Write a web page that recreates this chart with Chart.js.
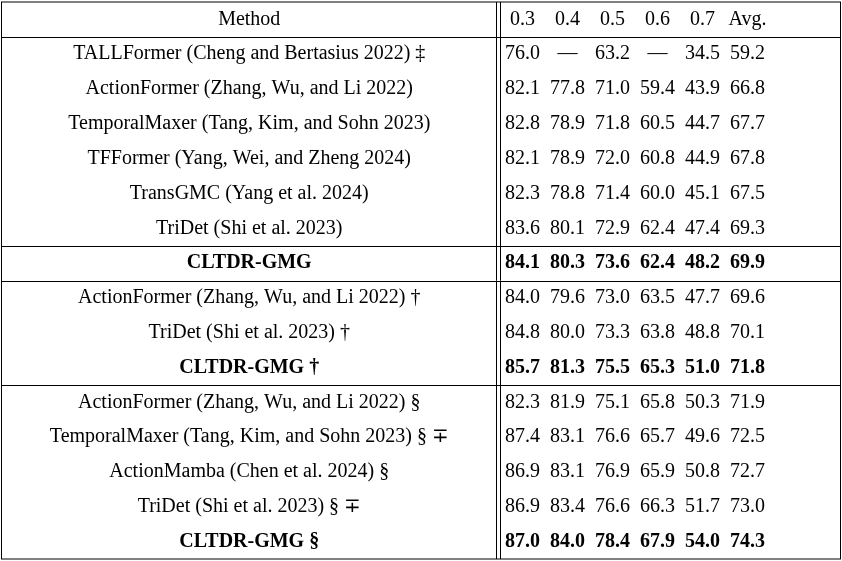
<!DOCTYPE html>
<html><head><meta charset="utf-8">
<script src="https://cdn.jsdelivr.net/npm/chart.js@4/dist/chart.umd.min.js"></script>
<style>html,body{margin:0;background:#fff}#wrap{width:842px;height:561px}</style>
</head><body><div id="wrap"><canvas id="c"></canvas></div>
<script>
'use strict';

const columns = ['0.3', '0.4', '0.5', '0.6', '0.7', 'Avg.'];
const methods = [
  'TALLFormer (Cheng and Bertasius 2022) ‡',
  'ActionFormer (Zhang, Wu, and Li 2022)',
  'TemporalMaxer (Tang, Kim, and Sohn 2023)',
  'TFFormer (Yang, Wei, and Zheng 2024)',
  'TransGMC (Yang et al. 2024)',
  'TriDet (Shi et al. 2023)',
  'CLTDR-GMG',
  'ActionFormer (Zhang, Wu, and Li 2022) †',
  'TriDet (Shi et al. 2023) †',
  'CLTDR-GMG †',
  'ActionFormer (Zhang, Wu, and Li 2022) §',
  'TemporalMaxer (Tang, Kim, and Sohn 2023) § ∓',
  'ActionMamba (Chen et al. 2024) §',
  'TriDet (Shi et al. 2023) § ∓',
  'CLTDR-GMG §',
];
const values = [
  ['76.0', '—', '63.2', '—', '34.5', '59.2'],
  ['82.1', '77.8', '71.0', '59.4', '43.9', '66.8'],
  ['82.8', '78.9', '71.8', '60.5', '44.7', '67.7'],
  ['82.1', '78.9', '72.0', '60.8', '44.9', '67.8'],
  ['82.3', '78.8', '71.4', '60.0', '45.1', '67.5'],
  ['83.6', '80.1', '72.9', '62.4', '47.4', '69.3'],
  ['84.1', '80.3', '73.6', '62.4', '48.2', '69.9'],
  ['84.0', '79.6', '73.0', '63.5', '47.7', '69.6'],
  ['84.8', '80.0', '73.3', '63.8', '48.8', '70.1'],
  ['85.7', '81.3', '75.5', '65.3', '51.0', '71.8'],
  ['82.3', '81.9', '75.1', '65.8', '50.3', '71.9'],
  ['87.4', '83.1', '76.6', '65.7', '49.6', '72.5'],
  ['86.9', '83.1', '76.9', '65.9', '50.8', '72.7'],
  ['86.9', '83.4', '76.6', '66.3', '51.7', '73.0'],
  ['87.0', '84.0', '78.4', '67.9', '54.0', '74.3'],
];
const boldRows = [6, 9, 14];
const groupBreaks = [5, 6, 9]; // line drawn after these data rows

const rowLabels = ['Method', ...methods];
const FONT = '"Liberation Serif", "DejaVu Serif", serif';

const cells = [];
values.forEach((row, r) => row.forEach((v, c) => cells.push({ x: columns[c], y: methods[r], v, bold: boldRows.includes(r) })));

const tablePlugin = {
  id: 'table',
  afterDraw(chart) {
    const { ctx, scales: { x, y } } = chart;
    const rowH = y.getPixelForValue(1) - y.getPixelForValue(0);
    const top = y.getPixelForValue(0) - rowH / 2;
    const bottom = y.getPixelForValue(rowLabels.length - 1) + rowH / 2;
    const left = 1.5, right = 840.5, sep = x.left;
    ctx.save();
    ctx.strokeStyle = '#000';
    ctx.lineWidth = 1;
    ctx.strokeRect(left, top, right - left, bottom - top);
    const line = (x1, y1, x2, y2) => { ctx.beginPath(); ctx.moveTo(x1, y1); ctx.lineTo(x2, y2); ctx.stroke(); };
    line(sep - 3.5, top, sep - 3.5, bottom);
    line(sep + 0.5, top, sep + 0.5, bottom);
    const hy = Math.round(top + rowH) + 0.5;
    line(left, hy, right, hy);
    groupBreaks.forEach(r => {
      const yy = Math.round(y.getPixelForValue(r + 1) + rowH / 2) + 0.5;
      line(left, yy, right, yy);
    });
    ctx.fillStyle = '#000';
    ctx.textBaseline = 'middle';
    ctx.textAlign = 'center';
    const methodX = (left + sep - 3) / 2;
    rowLabels.forEach((lbl, i) => {
      const bold = i > 0 && boldRows.includes(i - 1);
      ctx.font = `${bold ? 'bold ' : ''}20px ${FONT}`;
      ctx.fillText(lbl, methodX, y.getPixelForValue(i));
    });
    ctx.font = `20px ${FONT}`;
    columns.forEach((c, i) => ctx.fillText(c, x.getPixelForValue(i), y.getPixelForValue(0)));
    cells.forEach(cell => {
      ctx.font = `${cell.bold ? 'bold ' : ''}20px ${FONT}`;
      ctx.fillText(cell.v, x.getPixelForValue(columns.indexOf(cell.x)), y.getPixelForValue(rowLabels.indexOf(cell.y)));
    });
    ctx.restore();
  },
};

new Chart(document.getElementById('c'), {
  type: 'scatter',
  data: { datasets: [{ data: cells, pointRadius: 0 }] },
  options: {
    responsive: true,
    maintainAspectRatio: false,
    animation: false,
    layout: { padding: { left: 500, right: 72, top: 2, bottom: 2 } },
    scales: {
      x: { type: 'category', labels: columns, offset: true, display: false },
      y: { type: 'category', labels: rowLabels, offset: true, display: false },
    },
    plugins: { legend: { display: false }, tooltip: { enabled: false } },
  },
  plugins: [tablePlugin],
});
</script></body></html>
